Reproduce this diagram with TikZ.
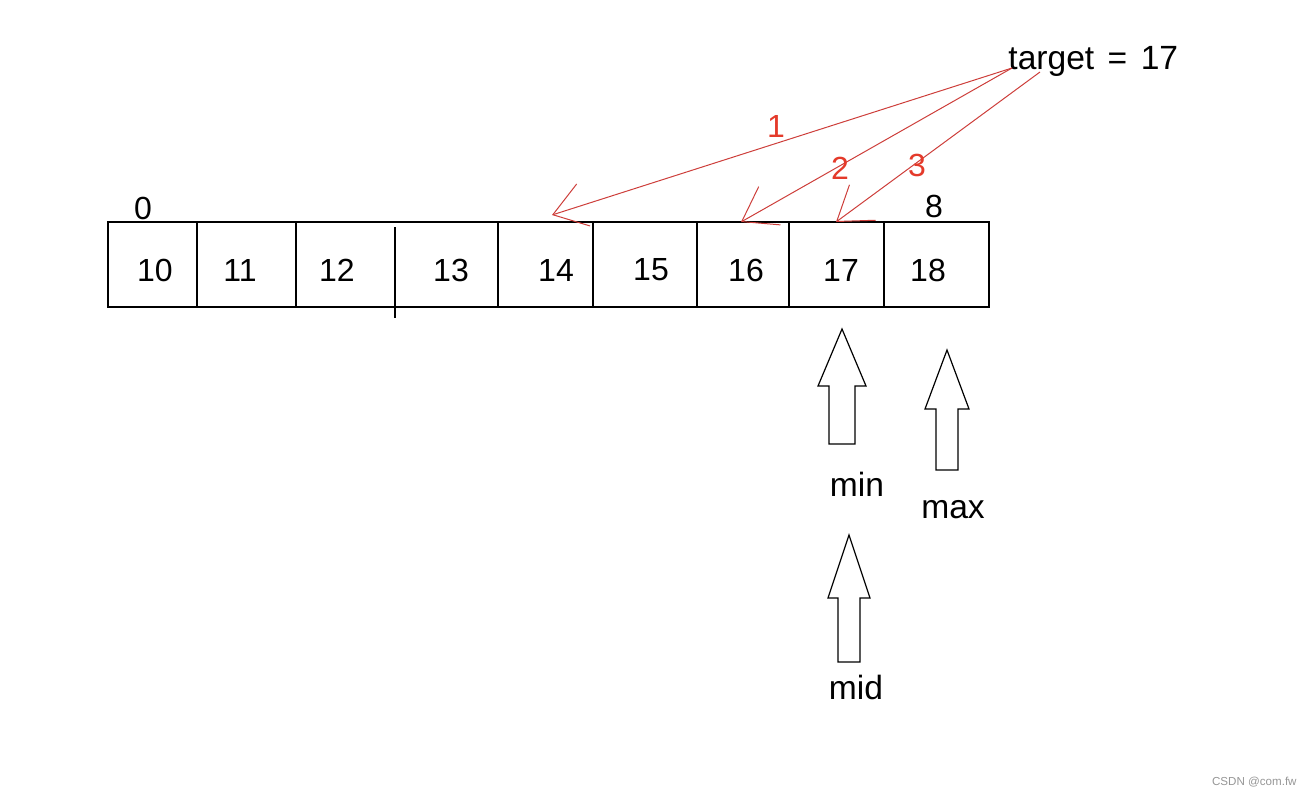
\documentclass[tikz,border=0pt]{standalone}
\usepackage{fontspec}
\setmainfont{Liberation Sans}
\usetikzlibrary{arrows.meta,positioning}
\definecolor{penred}{RGB}{205,62,58}
\definecolor{numred}{RGB}{228,58,42}
\definecolor{markgray}{RGB}{150,150,150}

\begin{document}
\begin{tikzpicture}[x=0.5pt,y=-0.5pt,
  num/.style={font=\fontsize{16}{18}\selectfont,inner sep=0pt},
  rednum/.style={num,text=numred},
  lbl/.style={font=\fontsize{16.8}{19}\selectfont,inner sep=0pt},
  arraybox/.style={draw,line width=0.7pt,minimum width=440.5pt,minimum height=42.5pt,inner sep=0pt},
  cellline/.style={line width=0.7pt},
  ptr/.style={-{Straight Barb[length=16pt,width=22pt]},penred,line width=0.5pt},
  blk/.style={draw,line width=0.6pt},
]
\useasboundingbox (0,0) rectangle (1311,798);

% the array
\node[arraybox] (arr) at (548.5,264.5) {};
\foreach \x in {197,296,498,593,697,789,884}
  \draw[cellline] (\x,222) -- (\x,307);
\draw[cellline] (395,227) -- (395,318);
\foreach \x/\v [count=\i from 0] in {155/10,240/11,337/12,451/13,556/14,651/15,746/16,841/17,928/18}
  \node[num] (n\i) at (\x,270) {\v};
\node[num] (lo) at (143,208) {0};
\node[num] (hi) at (934,206) {8};

% target and the three guesses
\node[lbl,anchor=west] (target) at (1008,61) {target\hspace{0.4em}=\hspace{0.4em}17};
\coordinate (s1) at (1012,68);
\coordinate (s3) at (1040,72);
\coordinate (e1) at (552,215);
\coordinate (e2) at (741,222);
\coordinate (e3) at (836,222);
\draw[ptr] (s1) -- (e1);
\draw[ptr] (s1) -- (e2);
\draw[ptr] (s3) -- (e3);
\node[rednum] (g1) at (776,126) {1};
\node[rednum] (g2) at (840,168) {2};
\node[rednum] (g3) at (917,165) {3};

% min, max, mid pointers
\foreach \x/\t/\b/\h/\s/\e in {842/329/386/24/13/444, 947/350/409/22/11/470, 849/535/598/21/11/662}
  \draw[blk] (\x,\t) -- (\x+\h,\b) -- (\x+\s,\b) -- (\x+\s,\e) -- (\x-\s,\e)
    -- (\x-\s,\b) -- (\x-\h,\b) -- cycle;
\node[lbl] (min) at (857,484) {min};
\node[lbl] (max) at (953,510) {max};
\node[lbl] (mid) at (856,687) {mid};

\node[font=\fontsize{5.8}{7}\selectfont,text=markgray,anchor=east,inner sep=0pt] (wm) at (1297,782) {CSDN @com.fw};
\end{tikzpicture}
\end{document}
